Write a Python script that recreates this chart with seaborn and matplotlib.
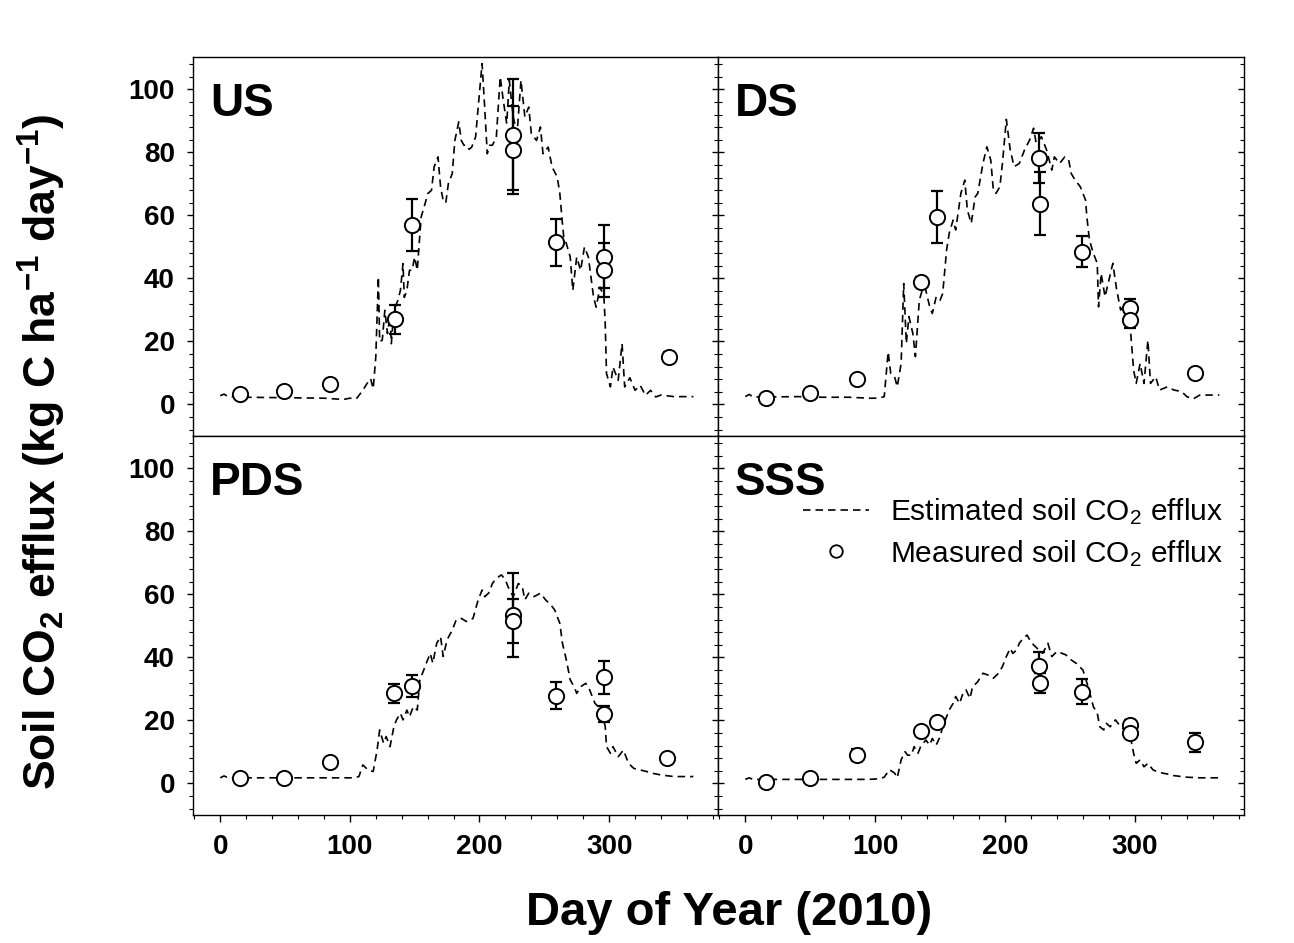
import numpy as np
import pandas as pd
import matplotlib
matplotlib.use("Agg")
import matplotlib.pyplot as plt
from matplotlib.ticker import MultipleLocator, NullFormatter
from matplotlib.lines import Line2D
import seaborn as sns

# ---------------- data ----------------
us_day = [0, 3, 6, 20, 40, 60, 80, 95, 100, 105,
          110, 113, 116, 118, 120, 122, 123, 125, 127, 129,
          131, 132, 134, 137, 139, 141, 142, 144, 146, 148,
          150, 152, 155, 158, 160, 163, 165, 168, 170, 172,
          174, 176, 179, 181, 184, 186, 188, 190, 192, 194,
          197, 199, 202, 204, 206, 208, 210, 213, 216, 218,
          221, 223, 226, 229, 232, 235, 238, 240, 244, 247,
          249, 253, 256, 260, 262, 264, 265, 267, 270, 272,
          275, 278, 281, 284, 288, 290, 293, 296, 297, 298,
          301, 303, 307, 310, 312, 316, 320, 324, 328, 332,
          336, 340, 350, 365]
us_val = [2.8, 3.3, 2.5, 2.3, 2.2, 2.1, 2.0, 1.6, 2.0, 1.8,
          4.5, 6.5, 8.2, 5.0, 15.0, 40.5, 20.0, 20.4, 29.9, 22.5,
          28.0, 19.3, 29.9, 33.0, 36.2, 44.7, 34.0, 36.2, 42.6, 42.6,
          46.8, 42.6, 59.5, 63.7, 66.9, 68.0, 75.4, 78.6, 69.0, 64.8,
          64.0, 70.1, 73.3, 83.8, 89.7, 83.8, 82.3, 82.3, 81.0, 81.7,
          84.9, 94.4, 108.2, 94.4, 79.6, 82.3, 82.3, 84.9, 104.0, 97.6,
          89.1, 102.9, 91.3, 86.0, 102.9, 91.3, 94.4, 86.0, 83.8, 88.1,
          79.6, 81.7, 75.4, 72.2, 66.9, 57.4, 53.2, 51.1, 46.8, 36.2,
          46.8, 42.6, 50.0, 46.8, 34.1, 30.9, 37.3, 34.1, 25.7, 9.8,
          5.6, 11.9, 7.7, 19.3, 5.6, 8.5, 4.5, 6.1, 2.9, 4.5,
          2.4, 3.0, 2.5, 2.5]

ds_day = [0, 3, 6, 20, 40, 60, 80, 95, 103, 107,
          110, 112, 115, 117, 120, 122, 124, 126, 129, 131,
          134, 137, 139, 142, 144, 147, 150, 152, 155, 157,
          160, 162, 166, 169, 171, 174, 177, 179, 183, 186,
          189, 191, 193, 196, 198, 201, 204, 207, 211, 215,
          219, 222, 224, 228, 232, 236, 238, 242, 246, 249,
          251, 254, 258, 262, 263, 265, 268, 271, 272, 274,
          277, 280, 283, 286, 289, 291, 295, 297, 299, 301,
          304, 307, 310, 312, 316, 319, 325, 330, 336, 340,
          345, 350, 365]
ds_val = [2.5, 3.2, 2.4, 2.4, 2.5, 2.3, 2.3, 2.0, 2.0, 2.5,
          16.7, 9.9, 8.8, 5.6, 13.0, 38.4, 19.4, 27.9, 22.6, 15.2,
          33.1, 37.4, 36.3, 31.0, 28.9, 34.2, 33.1, 35.2, 49.0, 54.3,
          58.5, 55.4, 67.0, 71.2, 61.7, 57.5, 65.9, 67.0, 76.5, 81.8,
          77.6, 68.1, 67.0, 69.1, 76.5, 90.5, 80.8, 75.5, 76.5, 80.8,
          84.0, 87.7, 82.9, 85.0, 80.8, 74.4, 78.6, 76.5, 78.6, 77.6,
          73.3, 71.2, 69.1, 64.9, 59.6, 52.2, 48.0, 44.8, 31.0, 41.6,
          34.2, 39.5, 44.8, 36.3, 30.0, 31.0, 30.0, 21.5, 10.9, 6.7,
          13.0, 6.7, 20.4, 6.7, 8.8, 4.6, 5.6, 4.6, 4.1, 2.5,
          1.8, 3.0, 3.0]

pds_day = [0, 3, 6, 20, 40, 60, 80, 95, 103, 107,
           110, 114, 118, 121, 123, 126, 128, 131, 134, 136,
           139, 141, 144, 146, 149, 152, 154, 157, 159, 162,
           164, 167, 170, 172, 175, 179, 182, 186, 190, 195,
           199, 202, 204, 207, 210, 212, 215, 217, 220, 222,
           226, 230, 233, 235, 238, 242, 247, 251, 255, 258,
           262, 264, 267, 270, 273, 275, 278, 282, 285, 289,
           294, 297, 298, 301, 303, 307, 311, 315, 319, 324,
           329, 334, 340, 350, 365]
pds_val = [1.8, 2.4, 1.8, 1.8, 1.8, 1.8, 1.8, 1.8, 1.8, 2.2,
           5.9, 4.3, 3.8, 10.6, 17.0, 12.8, 14.9, 11.7, 18.1, 20.2,
           22.3, 20.2, 23.3, 21.2, 24.4, 23.3, 32.9, 36.0, 38.2, 41.3,
           38.2, 44.5, 46.6, 40.3, 45.6, 48.7, 51.9, 52.4, 51.4, 52.4,
           58.3, 61.4, 59.3, 60.4, 63.5, 64.6, 65.7, 66.2, 64.6, 62.5,
           59.3, 63.5, 62.5, 58.3, 60.4, 59.3, 60.4, 58.3, 56.7, 55.1,
           50.8, 44.5, 39.2, 32.9, 30.7, 28.6, 30.7, 31.8, 29.7, 25.5,
           23.3, 18.1, 11.7, 9.6, 11.7, 8.5, 10.6, 6.4, 4.8, 4.3,
           3.8, 3.2, 2.7, 2.2, 2.2]

sss_day = [0, 3, 6, 20, 40, 60, 80, 95, 103, 107,
           111, 115, 117, 120, 123, 125, 128, 130, 133, 135,
           139, 142, 144, 147, 150, 152, 155, 157, 160, 162,
           165, 168, 170, 173, 175, 179, 183, 187, 191, 195,
           198, 201, 204, 206, 209, 211, 214, 217, 219, 222,
           226, 229, 233, 236, 240, 244, 247, 251, 255, 260,
           264, 268, 271, 273, 276, 278, 281, 285, 289, 292,
           296, 299, 301, 304, 307, 310, 314, 319, 325, 330,
           340, 350, 365]
sss_val = [1.3, 1.8, 1.3, 1.3, 1.3, 1.3, 1.3, 1.3, 1.5, 2.0,
           4.4, 3.3, 1.8, 7.5, 10.1, 9.0, 9.0, 11.7, 9.6, 11.7,
           13.8, 12.2, 14.3, 12.2, 14.9, 18.0, 21.2, 23.3, 25.4, 27.6,
           25.4, 29.1, 29.7, 27.0, 30.7, 32.3, 35.0, 34.4, 33.4, 35.0,
           37.1, 40.3, 42.9, 41.3, 42.4, 44.5, 46.1, 47.1, 45.6, 44.0,
           42.4, 41.3, 44.5, 40.3, 41.9, 41.3, 40.8, 39.2, 38.1, 36.0,
           30.7, 24.4, 22.3, 18.0, 17.0, 19.1, 18.0, 20.2, 18.0, 17.0,
           15.9, 9.6, 6.4, 7.5, 5.3, 6.4, 4.3, 3.5, 3.0, 2.5,
           2.0, 1.8, 1.8]

us_mday = [15, 49, 85, 135, 148, 226, 226, 259, 296, 296, 346]
us_mval = [3.3, 4.4, 6.4, 27.0, 57.0, 85.6, 80.8, 51.5, 46.9, 42.7, 15.2]
us_merr = [0.8, 0.8, 0.8, 4.5, 8.3, 17.6, 14.0, 7.4, 10.0, 8.5, 1.5]

ds_mday = [16, 50, 86, 135, 148, 226, 227, 259, 296, 296, 346]
ds_mval = [2.0, 3.5, 8.1, 39.0, 59.6, 78.2, 63.7, 48.5, 30.5, 26.8, 9.9]
ds_merr = [0.5, 0.5, 1.0, 1.5, 8.3, 8.0, 10.0, 5.0, 3.0, 2.6, 1.5]

pds_mday = [15, 49, 85, 134, 148, 226, 226, 259, 296, 296, 345]
pds_mval = [1.9, 1.9, 6.9, 28.6, 30.9, 53.5, 51.7, 27.8, 33.7, 22.1, 8.0]
pds_merr = [0.5, 0.5, 1.0, 3.0, 3.5, 13.2, 7.0, 4.3, 5.3, 2.6, 1.0]

sss_mday = [16, 50, 86, 135, 148, 226, 227, 259, 296, 296, 346]
sss_mval = [0.6, 1.9, 9.0, 16.7, 19.4, 37.3, 32.0, 29.1, 18.6, 15.9, 13.1]
sss_merr = [0.5, 0.5, 2.0, 1.0, 1.2, 4.5, 3.2, 4.0, 1.5, 1.5, 3.0]

panel_names = ["US", "DS", "PDS", "SSS"]
x_ticks = [0, 100, 200, 300]
y_ticks = [0, 20, 40, 60, 80, 100]

# ---------------- style ----------------
sns.set_style("white")
plt.rcParams["font.family"] = ["Liberation Sans", "DejaVu Sans"]
plt.rcParams["mathtext.fontset"] = "custom"
plt.rcParams["mathtext.rm"] = "Liberation Sans"
plt.rcParams["mathtext.it"] = "Liberation Sans"
plt.rcParams["mathtext.bf"] = "Liberation Sans:bold"
for key in ["text.color", "axes.labelcolor", "xtick.color", "ytick.color", "axes.edgecolor"]:
    plt.rcParams[key] = "black"

fig = plt.figure(figsize=(12.94, 9.43), dpi=100)

W, H = 1294.0, 943.0
x0, xm, x1 = 193 / W, 718 / W, 1244 / W
yt, ym, yb = 1 - 57 / H, 1 - 436 / H, 1 - 815 / H
rects = [
    (x0, ym, xm - x0, yt - ym),
    (xm, ym, x1 - xm, yt - ym),
    (x0, yb, xm - x0, ym - yb),
    (xm, yb, x1 - xm, ym - yb),
]

lines = [(us_day, us_val), (ds_day, ds_val), (pds_day, pds_val), (sss_day, sss_val)]
meas = [(us_mday, us_mval, us_merr), (ds_mday, ds_mval, ds_merr),
        (pds_mday, pds_mval, pds_merr), (sss_mday, sss_mval, sss_merr)]

dash = (0, (4.5, 3.0))
LW = 1.2

for i, rect in enumerate(rects):
    ax = fig.add_axes(rect)
    d, v = lines[i]
    df = pd.DataFrame({"day": d, "val": v})
    sns.lineplot(data=df, x="day", y="val", ax=ax, color="black", lw=LW,
                 linestyle=dash, estimator=None, sort=False, zorder=2)
    md, mv, me = meas[i]
    ax.errorbar(md, mv, yerr=me, fmt="none", ecolor="black", elinewidth=1.6,
                capsize=4, capthick=1.6, zorder=3)
    mdf = pd.DataFrame({"day": md, "val": mv})
    sns.scatterplot(data=mdf, x="day", y="val", ax=ax, marker="o", s=120,
                    facecolor="white", edgecolor="black", linewidth=1.4, zorder=4)

    ax.set_xlim(-21, 384)
    ax.set_ylim(-10, 110.3)
    ax.set_xlabel("")
    ax.set_ylabel("")
    ax.set_xticks(x_ticks)
    ax.set_yticks(y_ticks)
    ax.xaxis.set_minor_locator(MultipleLocator(20))
    ax.yaxis.set_minor_locator(MultipleLocator(4))
    for sp in ax.spines.values():
        sp.set_visible(True)
        sp.set_color("black")
        sp.set_linewidth(1.0)

    left_col = i in (0, 2)
    bottom_row = i in (2, 3)

    ax.tick_params(axis="x", which="both", bottom=True, top=False, direction="out",
                   labelbottom=bottom_row, labelsize=20, pad=9, color="black")
    ax.tick_params(axis="x", which="major", length=5, width=1)
    ax.tick_params(axis="x", which="minor", length=3, width=0.8)
    if left_col:
        ax.tick_params(axis="y", which="both", left=True, right=False, direction="out",
                       labelleft=True, labelsize=20, pad=9, color="black")
        sec = ax.secondary_yaxis("right")
        sec.set_yticks(y_ticks)
        sec.yaxis.set_minor_locator(MultipleLocator(4))
        sec.yaxis.set_major_formatter(NullFormatter())
        sec.tick_params(axis="y", which="both", direction="in", labelright=False)
        sec.tick_params(axis="y", which="major", length=4, width=1)
        sec.tick_params(axis="y", which="minor", length=3, width=0.8)
        sec.spines["right"].set_visible(False)
    else:
        ax.tick_params(axis="y", which="both", left=True, right=True, direction="in",
                       labelleft=False, color="black")
    ax.tick_params(axis="y", which="major", length=4, width=1)
    ax.tick_params(axis="y", which="minor", length=3, width=0.8)
    for lab in ax.get_xticklabels() + ax.get_yticklabels():
        lab.set_fontweight("bold")

    ax.text(0.032, 0.935, panel_names[i], transform=ax.transAxes, fontsize=33,
            fontweight="bold", va="top", ha="left")

    if i == 3:
        handles = [
            Line2D([], [], color="black", lw=LW, linestyle=dash),
            Line2D([], [], color="black", marker="o", markersize=9, lw=0,
                   markerfacecolor="white", markeredgewidth=1.3),
        ]
        labels = ["Estimated soil CO$_2$ efflux", "Measured soil CO$_2$ efflux"]
        ax.legend(handles, labels, loc="upper right", bbox_to_anchor=(1.0, 0.895),
                  frameon=False, fontsize=21.5, handlelength=2.2, handletextpad=0.7,
                  labelspacing=0.35, borderaxespad=0.3)

fig.text(729 / W, 1 - 913 / H, "Day of Year (2010)", fontsize=34, fontweight="bold",
         ha="center", va="center")
fig.text(42 / W, 1 - 452 / H,
         r"Soil CO$_\mathbf{2}$ efflux (kg C ha$^\mathbf{-1}$ day$^\mathbf{-1}$)",
         fontsize=32, fontweight="bold", rotation=90, ha="center", va="center")

fig.savefig("out.png", dpi=100)
